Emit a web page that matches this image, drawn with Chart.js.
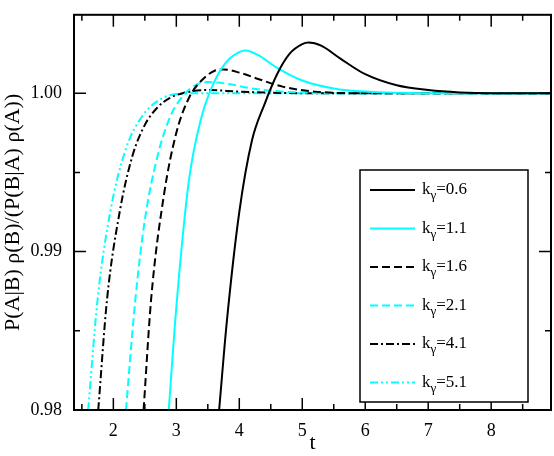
<!DOCTYPE html>
<html><head><meta charset="utf-8">
<script src="https://cdn.jsdelivr.net/npm/chart.js@4"></script>
<style>html,body{margin:0;padding:0;background:#fff}#w{width:554px;height:456px}</style>
</head><body><div id="w"><canvas id="c"></canvas></div>
<script>
const labels = ["0.6","1.1","1.6","2.1","4.1","5.1"];
const colors = ["#000000","#00ffff","#000000","#00ffff","#000000","#00ffff"];
const dashes = [[],[],[8,4],[8,4],[8,3,2,3],[8,3,2,3,2,3]];
const s06 = [[3.68,0.98],[3.8,0.9855],[4.0,0.9925],[4.2,0.997],[4.4,0.9993],[4.6,1.0012],[4.8,1.0025],[5.0,1.0031],[5.1,1.0032],[5.3,1.0030],[5.6,1.0022],[6.0,1.0012],[6.5,1.0005],[7,1.0002],[7.5,1.00005],[8,1.0],[9,1.0]];
const s11 = [[2.88,0.98],[3.0,0.9865],[3.2,0.9945],[3.4,0.9985],[3.6,1.0007],[3.8,1.002],[4.0,1.0026],[4.1,1.0027],[4.3,1.0024],[4.6,1.0016],[5,1.0008],[5.5,1.0003],[6,1.0001],[7,1.0],[9,1.0]];
const s16 = [[2.48,0.98],[2.6,0.987],[2.8,0.9935],[3.0,0.9975],[3.2,0.9997],[3.4,1.0008],[3.6,1.0014],[3.75,1.0015],[4.0,1.0013],[4.3,1.0009],[4.7,1.0004],[5.2,1.0001],[6,1.0],[9,1.0]];
const s21 = [[2.2,0.98],[2.35,0.987],[2.5,0.992],[2.7,0.996],[2.9,0.9985],[3.1,0.9998],[3.3,1.0005],[3.5,1.0007],[3.8,1.0006],[4.2,1.0003],[4.7,1.0001],[5.5,1.0],[9,1.0]];
const s41 = [[1.76,0.98],[1.9,0.987],[2.1,0.9925],[2.3,0.996],[2.5,0.998],[2.7,0.9991],[2.9,0.9997],[3.1,1.0],[3.5,1.0002],[4,1.0001],[5,1.0],[9,1.0]];
const s51 = [[1.6,0.98],[1.75,0.987],[1.95,0.9925],[2.2,0.9965],[2.45,0.9985],[2.7,0.9995],[3.0,0.99995],[3.5,1.0],[9,1.0]];
const series = [s06,s11,s16,s21,s41,s51];
const xTicks = [2,3,4,5,6,7,8];
const yTicks = [0.98,0.99,1.00];

const datasets = series.map((s,i)=>({label:"kγ="+labels[i],data:s.map(p=>({x:p[0],y:p[1]})),borderColor:colors[i],borderDash:dashes[i],borderWidth:2,pointRadius:0,cubicInterpolationMode:'monotone',fill:false}));

const deco = {id:'deco',afterDraw(ch){
  const c=ch.ctx,a=ch.chartArea,x=ch.scales.x,y=ch.scales.y;
  c.save();c.strokeStyle='#000';c.lineWidth=1.5;
  for(let v=1.5;v<=8.9;v+=0.5){const p=x.getPixelForValue(v);const L=Number.isInteger(v)?12:6;
    c.beginPath();c.moveTo(p,a.bottom);c.lineTo(p,a.bottom-L);c.moveTo(p,a.top);c.lineTo(p,a.top+L);c.stroke();}
  for(let v=0.98;v<=1.0049;v+=0.005){const p=y.getPixelForValue(v);const L=Math.abs(v*100-Math.round(v*100))<1e-6?12:6;
    c.beginPath();c.moveTo(a.left,p);c.lineTo(a.left+L,p);c.moveTo(a.right,p);c.lineTo(a.right-L,p);c.stroke();}
  c.lineWidth=2;c.strokeRect(a.left,a.top,a.right-a.left,a.bottom-a.top);
  const lx=360,ly=170,lw=168,lh=232;
  c.lineWidth=1.5;c.fillStyle='#fff';c.fillRect(lx,ly,lw,lh);c.strokeRect(lx,ly,lw,lh);
  datasets.forEach((d,i)=>{const yy=ly+20+i*38.5;
    c.save();c.strokeStyle=d.borderColor;c.lineWidth=2;c.setLineDash(d.borderDash);
    c.beginPath();c.moveTo(lx+10,yy);c.lineTo(lx+55,yy);c.stroke();c.restore();
    c.fillStyle='#000';c.textBaseline='middle';c.font='17px "Liberation Serif"';
    c.fillText('k',lx+62,yy);let w=c.measureText('k').width;
    c.font='13px "Liberation Serif"';c.fillText('γ',lx+62+w,yy+6);let w2=c.measureText('γ').width;
    c.font='17px "Liberation Serif"';c.fillText('='+labels[i],lx+62+w+w2,yy);
  });
  c.restore();
}};

new Chart(document.getElementById('c'),{type:'line',data:{datasets},
 options:{responsive:true,maintainAspectRatio:false,animation:false,
  layout:{padding:{top:2,right:3,left:0,bottom:0}},
  plugins:{legend:{display:false},tooltip:{enabled:false}},
  scales:{
   x:{type:'linear',min:1.375,max:8.95,grid:{display:false},border:{display:false},
     afterBuildTicks:s=>{s.ticks=xTicks.map(v=>({value:v}));},
     afterFit:s=>{s.height=46;},
     ticks:{color:'#000',font:{family:'Liberation Serif',size:18},padding:2,callback:v=>v},
     title:{display:true,text:'t',color:'#000',font:{family:'Liberation Serif',size:22},padding:0}},
   y:{min:0.98,max:1.00495,grid:{display:false},border:{display:false},
     afterBuildTicks:s=>{s.ticks=yTicks.map(v=>({value:v}));},
     afterFit:s=>{s.width=74;},
     ticks:{color:'#000',font:{family:'Liberation Serif',size:18},padding:4,callback:v=>v.toFixed(2)},
     title:{display:true,text:'P(A|B) ρ(B)/(P(B|A) ρ(A))',color:'#000',font:{family:'Liberation Serif',size:22},padding:0}}
  }},plugins:[deco]});
</script></body></html>
